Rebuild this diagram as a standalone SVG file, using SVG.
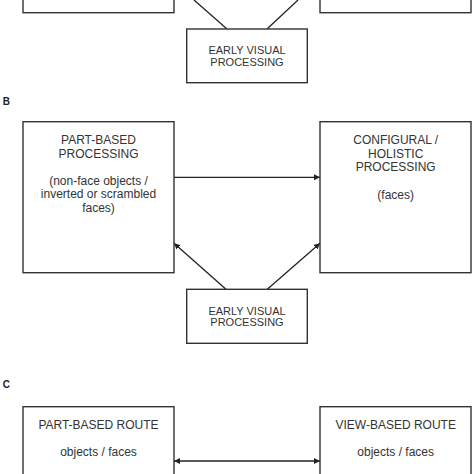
<svg xmlns="http://www.w3.org/2000/svg" width="474" height="474" viewBox="0 0 474 474">
<defs>
<style>
.box{fill:#fff;stroke:#333;stroke-width:1.4}
.ln{stroke:#222;stroke-width:1.3;fill:none}
.t{font-family:"Liberation Sans",Arial,sans-serif;font-size:12px;fill:#333;text-anchor:middle}
.s{font-size:11px}
.lab{font-family:"Liberation Sans",Arial,sans-serif;font-size:10px;font-weight:bold;fill:#222}
</style>
<marker id="ah" viewBox="0 0 10 10" refX="10" refY="5" markerWidth="6" markerHeight="6" markerUnits="userSpaceOnUse" orient="auto-start-reverse">
<path d="M0,0 L10,5 L0,10 z" fill="#222"/>
</marker>
</defs>
<rect width="474" height="474" fill="#fff"/>
<g id="connectors">
<line class="ln" x1="227" y1="29" x2="194" y2="0"/>
<line class="ln" x1="267" y1="29" x2="298" y2="0"/>
<line class="ln" x1="174" y1="177.3" x2="320" y2="177.3" marker-end="url(#ah)"/>
<line class="ln" x1="226" y1="289.3" x2="174" y2="243.3" marker-end="url(#ah)"/>
<line class="ln" x1="267.3" y1="289.3" x2="320" y2="243.3" marker-end="url(#ah)"/>
<line class="ln" x1="174" y1="461" x2="320" y2="461" marker-start="url(#ah)" marker-end="url(#ah)"/>
</g>
<g id="a-left"><rect class="box" x="23" y="-10" width="151" height="22.7"/></g>
<g id="a-right"><rect class="box" x="320" y="-10" width="151" height="22.7"/></g>
<g id="a-early">
<rect class="box" x="186.7" y="29" width="120.6" height="53.7"/>
<text class="t s" x="247" y="54">EARLY VISUAL</text>
<text class="t s" x="247" y="66">PROCESSING</text>
</g>
<text class="lab" x="2.7" y="105">B</text>
<g id="b-part">
<rect class="box" x="23" y="121.7" width="151" height="151"/>
<text class="t" x="98.5" y="144.3">PART-BASED</text>
<text class="t" x="98.5" y="157.6">PROCESSING</text>
<text class="t" x="98.5" y="184.5">(non-face objects /</text>
<text class="t" x="98.5" y="198">inverted or scrambled</text>
<text class="t" x="98.5" y="211.5">faces)</text>
</g>
<g id="b-config">
<rect class="box" x="320" y="121.7" width="151" height="151"/>
<text class="t" x="395.7" y="144.3">CONFIGURAL /</text>
<text class="t" x="395.7" y="157.6">HOLISTIC</text>
<text class="t" x="395.7" y="171">PROCESSING</text>
<text class="t" x="395.7" y="199">(faces)</text>
</g>
<g id="b-early">
<rect class="box" x="186.7" y="289.3" width="120.6" height="54"/>
<text class="t s" x="247" y="314.7">EARLY VISUAL</text>
<text class="t s" x="247" y="326">PROCESSING</text>
</g>
<text class="lab" x="2.7" y="388.3">C</text>
<g id="c-part">
<rect class="box" x="23" y="406.7" width="151" height="80"/>
<text class="t" x="98.5" y="428.6">PART-BASED ROUTE</text>
<text class="t" x="98.5" y="455.5">objects / faces</text>
</g>
<g id="c-view">
<rect class="box" x="320" y="406.7" width="151" height="80"/>
<text class="t" x="395.7" y="428.6">VIEW-BASED ROUTE</text>
<text class="t" x="395.7" y="455.5">objects / faces</text>
</g>
</svg>
